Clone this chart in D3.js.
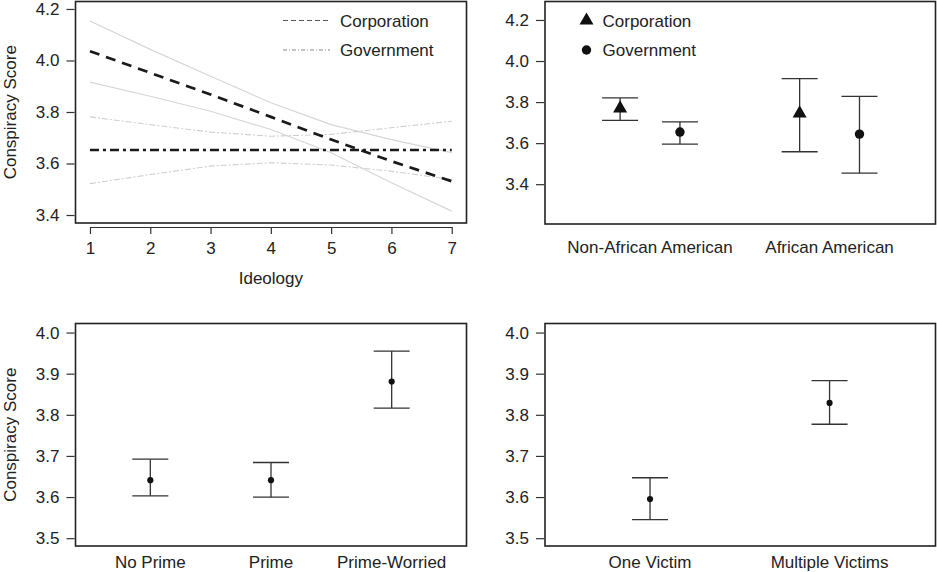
<!DOCTYPE html>
<html>
<head>
<meta charset="utf-8">
<script src="https://cdn.jsdelivr.net/npm/d3@7"></script>
<style>
  body { margin: 0; background: #fff; }
  svg { display: block; font-family: "Liberation Sans", Arial, sans-serif; }
  .tick text { font-size: 17px; fill: #222; }
  .axis path, .axis line { stroke: #333; stroke-width: 1.2; }
  .label { font-size: 17px; fill: #222; }
</style>
</head>
<body>
<svg width="937" height="572"></svg>
<script>
// ---- data ----
var ideology = [1, 2, 3, 4, 5, 6, 7];
var corpFit   = [4.036, 3.952, 3.868, 3.781, 3.693, 3.609, 3.531];
var corpUpper = [4.153, 4.043, 3.939, 3.836, 3.751, 3.693, 3.642];
var corpLower = [3.916, 3.861, 3.803, 3.732, 3.642, 3.525, 3.415];
var govFit    = [3.652, 3.652, 3.652, 3.652, 3.652, 3.652, 3.652];
var govUpper  = [3.781, 3.751, 3.722, 3.706, 3.713, 3.739, 3.764];
var govLower  = [3.522, 3.557, 3.590, 3.603, 3.594, 3.570, 3.538];

var raceGroups   = ['Non-African American', 'African American'];
var raceCorpMean = [3.769, 3.745];
var raceCorpLow  = [3.711, 3.558];
var raceCorpHigh = [3.820, 3.914];
var raceGovMean  = [3.654, 3.644];
var raceGovLow   = [3.595, 3.454];
var raceGovHigh  = [3.704, 3.828];

var primeGroups = ['No Prime', 'Prime', 'Prime-Worried'];
var primeMean = [3.641, 3.641, 3.881];
var primeLow  = [3.603, 3.600, 3.816];
var primeHigh = [3.692, 3.684, 3.955];

var victimGroups = ['One Victim', 'Multiple Victims'];
var victimMean = [3.595, 3.829];
var victimLow  = [3.545, 3.777];
var victimHigh = [3.647, 3.883];

var topTicks = [3.4, 3.6, 3.8, 4.0, 4.2];
var bottomTicks = [3.5, 3.6, 3.7, 3.8, 3.9, 4.0];

var svg = d3.select('svg');

// panel boxes (pixel frames)
var panels = {
    tl: { x0: 75.5, x1: 466.5, y0: 1.5, y1: 223 },
    tr: { x0: 545, x1: 935.5, y0: 1.5, y1: 224 },
    bl: { x0: 75.5, x1: 466.5, y0: 323.5, y1: 546 },
    br: { x0: 545, x1: 935.5, y0: 323.5, y1: 546 }
};

function drawFrame(p) {
    svg.append('rect')
        .attr('x', p.x0).attr('y', p.y0)
        .attr('width', p.x1 - p.x0).attr('height', p.y1 - p.y0)
        .attr('fill', 'none').attr('stroke', '#222').attr('stroke-width', 1.6);
}

function drawYAxis(p, yScale, ticks) {
    var g = svg.append('g')
        .attr('class', 'axis')
        .attr('transform', 'translate(' + (p.x0 - 1) + ',0)')
        .call(d3.axisLeft(yScale).tickValues(ticks).tickSize(8).tickPadding(7).tickFormat(d3.format('.1f')));
    g.select('.domain').remove();
}

function yLabel(p) {
    svg.append('text')
        .attr('class', 'label')
        .attr('transform', 'translate(' + 16 + ',' + ((p.y0 + p.y1) / 2) + ') rotate(-90)')
        .attr('text-anchor', 'middle')
        .text('Conspiracy Score');
}

function catLabels(groups, xScale, y) {
    svg.selectAll(null).data(groups).enter()
        .append('text')
        .attr('class', 'label')
        .attr('x', (d, i) => xScale(i + 1))
        .attr('y', y)
        .attr('text-anchor', 'middle')
        .text(d => d);
}

function errorBars(means, lows, highs, xScale, yScale, offset, marker, size) {
    var data = means.map((m, i) => ({ i: i, m: m, lo: lows[i], hi: highs[i] }));
    var g = svg.append('g');
    var cap = 18;
    data.forEach(function (d) {
        var cx = xScale(d.i + 1 + offset);
        g.append('line').attr('x1', cx).attr('x2', cx)
            .attr('y1', yScale(d.lo)).attr('y2', yScale(d.hi))
            .attr('stroke', '#333').attr('stroke-width', 1.3);
        [d.lo, d.hi].forEach(function (v) {
            g.append('line').attr('x1', cx - cap).attr('x2', cx + cap)
                .attr('y1', yScale(v)).attr('y2', yScale(v))
                .attr('stroke', '#333').attr('stroke-width', 1.3);
        });
        g.append('path')
            .attr('d', d3.symbol().type(marker).size(size)())
            .attr('transform', 'translate(' + cx + ',' + yScale(d.m) + ')')
            .attr('fill', '#111');
    });
}

// ---------- top-left: ideology ----------
var pTL = panels.tl;
var xTL = d3.scaleLinear().domain([0.76, 7.245]).range([pTL.x0, pTL.x1]);
var yTL = d3.scaleLinear().domain([3.369, 4.229]).range([pTL.y1, pTL.y0]);

var line = d3.line().x((d, i) => xTL(ideology[i])).y(d => yTL(d));

[corpUpper, corpLower].forEach(function (s) {
    svg.append('path').datum(s).attr('d', line)
        .attr('fill', 'none').attr('stroke', '#d6d6d6').attr('stroke-width', 1.2);
});
[govUpper, govLower].forEach(function (s) {
    svg.append('path').datum(s).attr('d', line)
        .attr('fill', 'none').attr('stroke', '#cfcfcf').attr('stroke-width', 1.1)
        .attr('stroke-dasharray', '6,2,2,2');
});
svg.append('path').datum(corpFit).attr('d', line)
    .attr('fill', 'none').attr('stroke', '#1a1a1a').attr('stroke-width', 2.7)
    .attr('stroke-dasharray', '10,7');
svg.append('path').datum(govFit).attr('d', line)
    .attr('fill', 'none').attr('stroke', '#1a1a1a').attr('stroke-width', 2.5)
    .attr('stroke-dasharray', '9,4,3,4');

drawFrame(pTL);
drawYAxis(pTL, yTL, topTicks);

var xTLaxis = xTL.copy().domain([1, 7]).range([xTL(1), xTL(7)]);
svg.append('g')
    .attr('class', 'axis')
    .attr('transform', 'translate(0,' + (pTL.y1 + 4) + ')')
    .call(d3.axisBottom(xTLaxis).tickValues(ideology).tickFormat(d3.format('d'))
        .tickSize(7).tickSizeOuter(0).tickPadding(8));

svg.append('text').attr('class', 'label')
    .attr('x', (xTL(1) + xTL(7)) / 2).attr('y', 284)
    .attr('text-anchor', 'middle').text('Ideology');
yLabel(pTL);

// legend (line styles)
var legTL = [
    { name: 'Corporation', dash: '5,3', color: '#555', y: 20.5 },
    { name: 'Government', dash: '4,2,1,2', color: '#888', y: 50 }
];
legTL.forEach(function (d) {
    svg.append('line').attr('x1', 283).attr('x2', 330).attr('y1', d.y).attr('y2', d.y)
        .attr('stroke', d.color).attr('stroke-width', 1.1).attr('stroke-dasharray', d.dash);
    svg.append('text').attr('class', 'label').attr('x', 340).attr('y', d.y + 6).text(d.name);
});

// ---------- top-right: race ----------
var pTR = panels.tr;
var xTR = d3.scaleLinear().domain([0.415, 2.59]).range([pTR.x0, pTR.x1]);
var yTR = d3.scaleLinear().domain([3.206, 4.29]).range([pTR.y1, pTR.y0]);

drawFrame(pTR);
drawYAxis(pTR, yTR, topTicks);
errorBars(raceCorpMean, raceCorpLow, raceCorpHigh, xTR, yTR, -1 / 6, d3.symbolTriangle, 85);
errorBars(raceGovMean, raceGovLow, raceGovHigh, xTR, yTR, 1 / 6, d3.symbolCircle, 70);
catLabels(raceGroups, xTR, 253);

var legTR = [
    { name: 'Corporation', type: d3.symbolTriangle, size: 85, y: 20.5 },
    { name: 'Government', type: d3.symbolCircle, size: 70, y: 50 }
];
legTR.forEach(function (d) {
    svg.append('path').attr('d', d3.symbol().type(d.type).size(d.size)())
        .attr('transform', 'translate(586.5,' + d.y + ')').attr('fill', '#111');
    svg.append('text').attr('class', 'label').attr('x', 602.5).attr('y', d.y + 6).text(d.name);
});

// ---------- bottom-left: prime ----------
var pBL = panels.bl;
var xBL = d3.scaleLinear().domain([0.38, 3.62]).range([pBL.x0, pBL.x1]);
var yBL = d3.scaleLinear().domain([3.481, 4.022]).range([pBL.y1, pBL.y0]);

drawFrame(pBL);
drawYAxis(pBL, yBL, bottomTicks);
errorBars(primeMean, primeLow, primeHigh, xBL, yBL, 0, d3.symbolCircle, 30);
catLabels(primeGroups, xBL, 568);
yLabel(pBL);

// ---------- bottom-right: victims ----------
var pBR = panels.br;
var xBR = d3.scaleLinear().domain([0.415, 2.59]).range([pBR.x0, pBR.x1]);
var yBR = d3.scaleLinear().domain([3.481, 4.022]).range([pBR.y1, pBR.y0]);

drawFrame(pBR);
drawYAxis(pBR, yBR, bottomTicks);
errorBars(victimMean, victimLow, victimHigh, xBR, yBR, 0, d3.symbolCircle, 30);
catLabels(victimGroups, xBR, 568);
</script>
</body>
</html>
